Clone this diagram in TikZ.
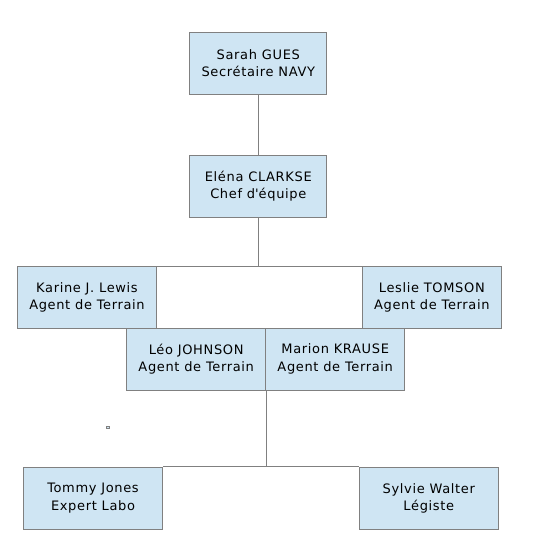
\documentclass[tikz,border=0pt]{standalone}
\usepackage{fontspec}
\setmainfont{DejaVu Sans}[LetterSpace=5]
\definecolor{boxblue}{HTML}{CFE5F3}
\definecolor{boxgray}{HTML}{808080}
\begin{document}
\begin{tikzpicture}[x=1pt,y=-1pt,
    poste/.style={draw=boxgray, fill=boxblue, line width=1pt, minimum width=139pt,
      minimum height=62pt, inner sep=0pt, align=center,
      font=\fontsize{13}{17.4}\selectfont},
    lien/.style={draw=boxgray, line width=1pt}]
  \useasboundingbox (0,0) rectangle (539,547);

  \node[poste, minimum width=137pt] (sarah) at (258.3,63.3) {Sarah GUES\\Secrétaire NAVY};
  \node[poste, minimum width=137pt] (elena) at (258.3,186) {Eléna CLARKSE\\Chef d\textquotesingle équipe};
  \node[poste] (karine) at (87,297.5) {Karine J. Lewis\\Agent de Terrain};
  \node[poste] (leslie) at (431.8,297.5) {Leslie TOMSON\\Agent de Terrain};
  \node[poste] (leo) at (196.2,359) {Léo JOHNSON\\Agent de Terrain};
  \node[poste] (marion) at (335.2,359) {Marion KRAUSE\\Agent de Terrain};
  \node[poste] (tommy) at (93,498.3) {Tommy Jones\\Expert Labo};
  \node[poste] (sylvie) at (428.8,498.3) {Sylvie Walter\\Légiste};
  \node[draw=boxgray, fill=boxblue, line width=0.8pt, minimum width=3pt,
    minimum height=2pt, inner sep=0pt] (point) at (108,427.5) {};

  \draw[lien] (sarah) -- (elena);
  \draw[lien] (elena.south) -- (elena.south |- karine.north);
  \draw[lien] (karine.north east) -- (leslie.north west);
  \draw[lien] (leo.south east) -- (leo.south east |- tommy.north);
  \draw[lien] (tommy.north east) -- (sylvie.north west);
\end{tikzpicture}
\end{document}
